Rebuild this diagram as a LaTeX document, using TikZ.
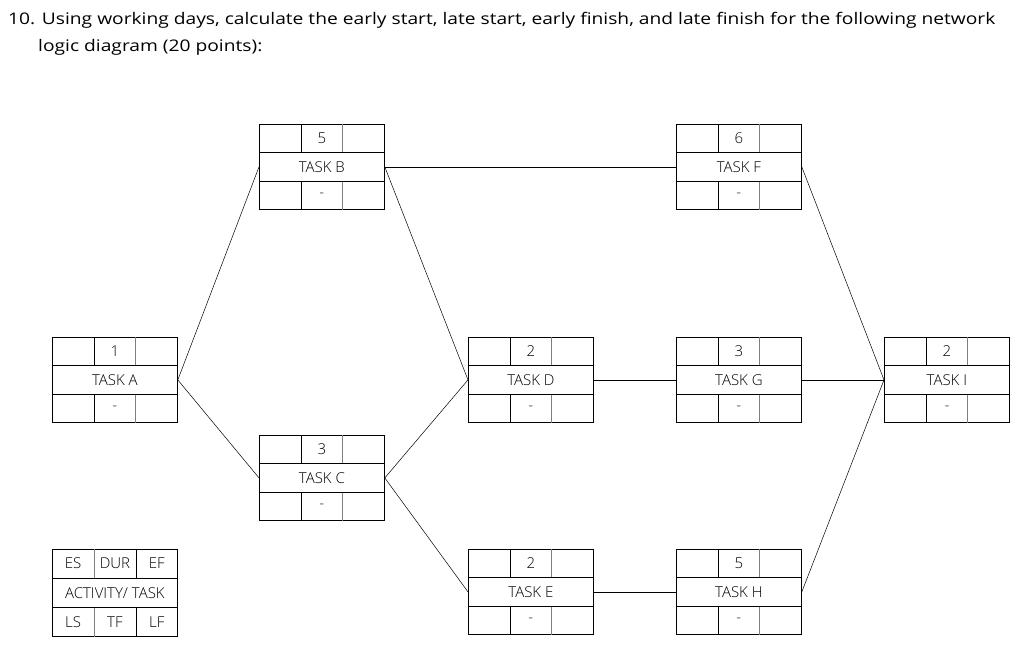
\documentclass[tikz,border=0pt]{standalone}
\usepackage{fontspec}
\setmainfont{Open Sans}
\newfontfamily\hand{Open Sans Light}
\begin{document}
\begin{tikzpicture}[x=1pt,y=-1pt,
  tbox/.style={draw,line width=0.8pt,minimum width=125pt,minimum height=85pt,inner sep=0,anchor=north west},
  conn/.style={draw,line width=0.5pt},
  lbl/.style={font=\hand\fontsize{15}{15}\selectfont,inner sep=0}]
\useasboundingbox (0,0) rectangle (1024,647);
\node[anchor=west,font=\fontsize{16}{18}\selectfont,inner sep=0,xscale=1.2] (t1) at (8,20) {10. Using working days, calculate the early start, late start, early finish, and late finish for the following network};
\node[anchor=west,font=\fontsize{16}{18}\selectfont,inner sep=0,xscale=1.2] (t2) at (38,47) {logic diagram (20 points):};
\newcommand\taskbox[6]{%
  \node[tbox] (#1) at (#2,#3) {};
  \draw[line width=0.8pt] ([yshift=-28pt]#1.north west) -- ([yshift=-28pt]#1.north east)
    ([yshift=28pt]#1.south west) -- ([yshift=28pt]#1.south east);
  \draw[line width=0.8pt] ([xshift=42pt]#1.north west) -- ++(0,28) ([xshift=42pt]#1.south west) -- ++(0,-28);
  \draw[line width=0.8pt,gray] ([xshift=83pt]#1.north west) -- ++(0,28) ([xshift=83pt]#1.south west) -- ++(0,-28);
  \node[lbl] at ([yshift=-14pt]#1.north) {#4};
  \node[lbl] at (#1.center) {#5};
  \node[lbl] at ([yshift=14pt]#1.south) {#6};}
\taskbox{A}{52}{337}{1}{TASK A}{-}
\taskbox{B}{259}{124}{5}{TASK B}{-}
\taskbox{C}{259}{435}{3}{TASK C}{-}
\taskbox{D}{468}{337}{2}{TASK D}{-}
\taskbox{E}{468}{549}{2}{TASK E}{-}
\taskbox{F}{676}{124}{6}{TASK F}{-}
\taskbox{G}{676}{337}{3}{TASK G}{-}
\taskbox{H}{676}{549}{5}{TASK H}{-}
\taskbox{I}{884}{337}{2}{TASK I}{-}
\node[tbox,minimum width=125pt,minimum height=87pt] (L) at (52,549) {};
\draw[line width=0.8pt] ([yshift=-29pt]L.north west) -- ([yshift=-29pt]L.north east)
  ([yshift=29pt]L.south west) -- ([yshift=29pt]L.south east)
  ([xshift=84pt]L.north west) -- ++(0,29) ([xshift=84pt]L.south west) -- ++(0,-29);
\draw[line width=0.8pt,gray] ([xshift=42pt]L.north west) -- ++(0,29) ([xshift=42pt]L.south west) -- ++(0,-29);
\node[lbl] at ([shift={(21pt,-14.5pt)}]L.north west) {ES};
\node[lbl] at ([yshift=-14.5pt]L.north) {DUR};
\node[lbl] at ([shift={(-21pt,-14.5pt)}]L.north east) {EF};
\node[lbl] at (L.center) {ACTIVITY/ TASK};
\node[lbl] at ([shift={(21pt,14.5pt)}]L.south west) {LS};
\node[lbl] at ([yshift=14.5pt]L.south) {TF};
\node[lbl] at ([shift={(-21pt,14.5pt)}]L.south east) {LF};
\draw[conn] (A.east) -- (B.west);
\draw[conn] (A.east) -- (C.west);
\draw[conn] (B.east) -- (F.west);
\draw[conn] (B.east) -- (D.west);
\draw[conn] (C.east) -- (D.west);
\draw[conn] (C.east) -- (E.west);
\draw[conn] (D.east) -- (G.west);
\draw[conn] (E.east) -- (H.west);
\draw[conn] (F.east) -- (I.west);
\draw[conn] (G.east) -- (I.west);
\draw[conn] (H.east) -- (I.west);
\end{tikzpicture}
\end{document}
